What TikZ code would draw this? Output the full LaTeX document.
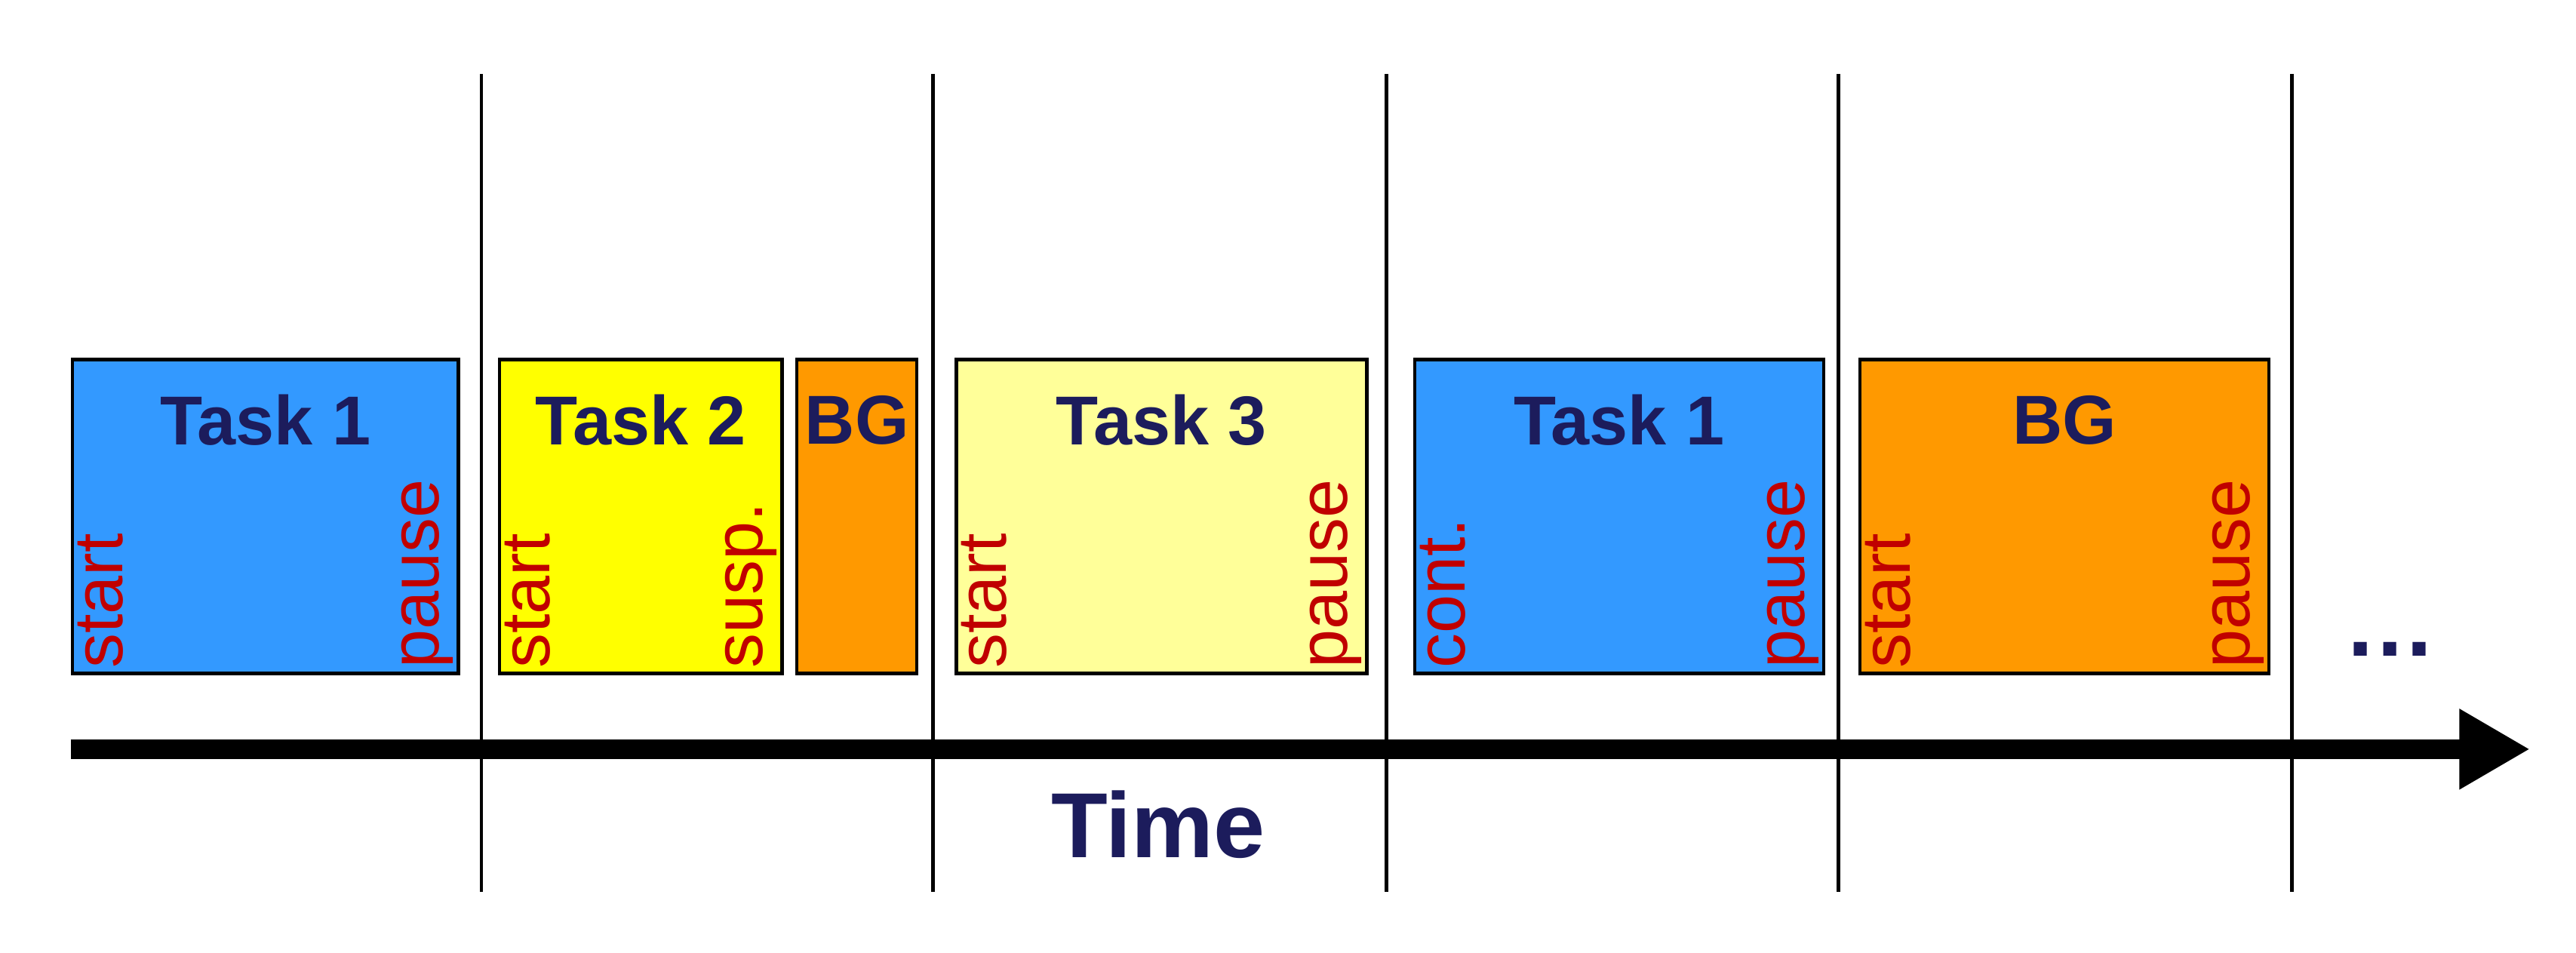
\documentclass[tikz,border=0pt]{standalone}
\usepackage{fontspec}
\setmainfont{Liberation Sans}
\usetikzlibrary{positioning,arrows.meta}
\definecolor{taskblue}{HTML}{3399FF}
\definecolor{taskyellow}{HTML}{FFFF00}
\definecolor{taskpale}{HTML}{FFFF99}
\definecolor{bgorange}{HTML}{FF9900}
\definecolor{labelred}{HTML}{C00000}
\definecolor{titlenavy}{HTML}{1C1C5C}
\tikzset{
  slot/.style={draw=black, line width=0.6pt, minimum height=1.91cm, anchor=south west, inner sep=0pt},
  tasklabel/.style={font=\fontsize{12}{14}\selectfont\bfseries, text=titlenavy},
  evlabel/.style={font=\fontsize{12}{14}\selectfont, text=labelred, rotate=90, inner sep=1pt},
  divider/.style={line width=0.6pt}
}
\begin{document}
\begin{tikzpicture}
		\useasboundingbox (0, 0) rectangle (15.68, 5.8);
		% Trennlinien
		\foreach \x in {2.93, 5.68, 8.44, 11.19, 13.95}
			\draw [divider] (\x, 5.35) -- (\x, 0.37);
		% Kaesten
		\node [slot, fill=taskblue, minimum width=2.35cm] (t1a) at (0.43, 1.69) {};
		\node [slot, fill=taskyellow, minimum width=1.72cm] (t2) at (3.03, 1.69) {};
		\node [slot, fill=bgorange, minimum width=0.73cm] (bga) at (4.84, 1.69) {};
		\node [slot, fill=taskpale, minimum width=2.50cm] (t3) at (5.81, 1.69) {};
		\node [slot, fill=taskblue, minimum width=2.49cm] (t1b) at (8.60, 1.69) {};
		\node [slot, fill=bgorange, minimum width=2.49cm] (bgb) at (11.31, 1.69) {};
		% Titel
		\node [tasklabel] at ([yshift=-0.38cm] t1a.north) {Task 1};
		\node [tasklabel] at ([yshift=-0.38cm] t2.north) {Task 2};
		\node [tasklabel] at ([yshift=-0.38cm] bga.north) {BG};
		\node [tasklabel] at ([yshift=-0.38cm] t3.north) {Task 3};
		\node [tasklabel] at ([yshift=-0.38cm] t1b.north) {Task 1};
		\node [tasklabel] at ([yshift=-0.38cm] bgb.north) {BG};
		% Ereignisse
		\node [evlabel, anchor=north west] at (t1a.south west) {start};
		\node [evlabel, anchor=south west] at (t1a.south east) {pause};
		\node [evlabel, anchor=north west] at (t2.south west) {start};
		\node [evlabel, anchor=south west] at (t2.south east) {susp.};
		\node [evlabel, anchor=north west] at (t3.south west) {start};
		\node [evlabel, anchor=south west] at (t3.south east) {pause};
		\node [evlabel, anchor=north west] at (t1b.south west) {cont.};
		\node [evlabel, anchor=south west] at (t1b.south east) {pause};
		\node [evlabel, anchor=north west] at (bgb.south west) {start};
		\node [evlabel, anchor=south west] at (bgb.south east) {pause};
		% Zeitachse
		\coordinate (tstart) at (0.43, 1.24);
		\coordinate (tend) at (15.40, 1.24);
		\draw [line width=3.4pt, -{Triangle[width=0.46cm, length=0.43cm]}] (tstart) -- (tend);
		\node [font=\fontsize{16}{19}\selectfont\bfseries, text=titlenavy] (time) at (7.05, 0.78) {Time};
		\node [font=\fontsize{16}{19}\selectfont\bfseries, text=titlenavy] (dots) at (14.55, 1.85) {\dots};
	\end{tikzpicture}
\end{document}
